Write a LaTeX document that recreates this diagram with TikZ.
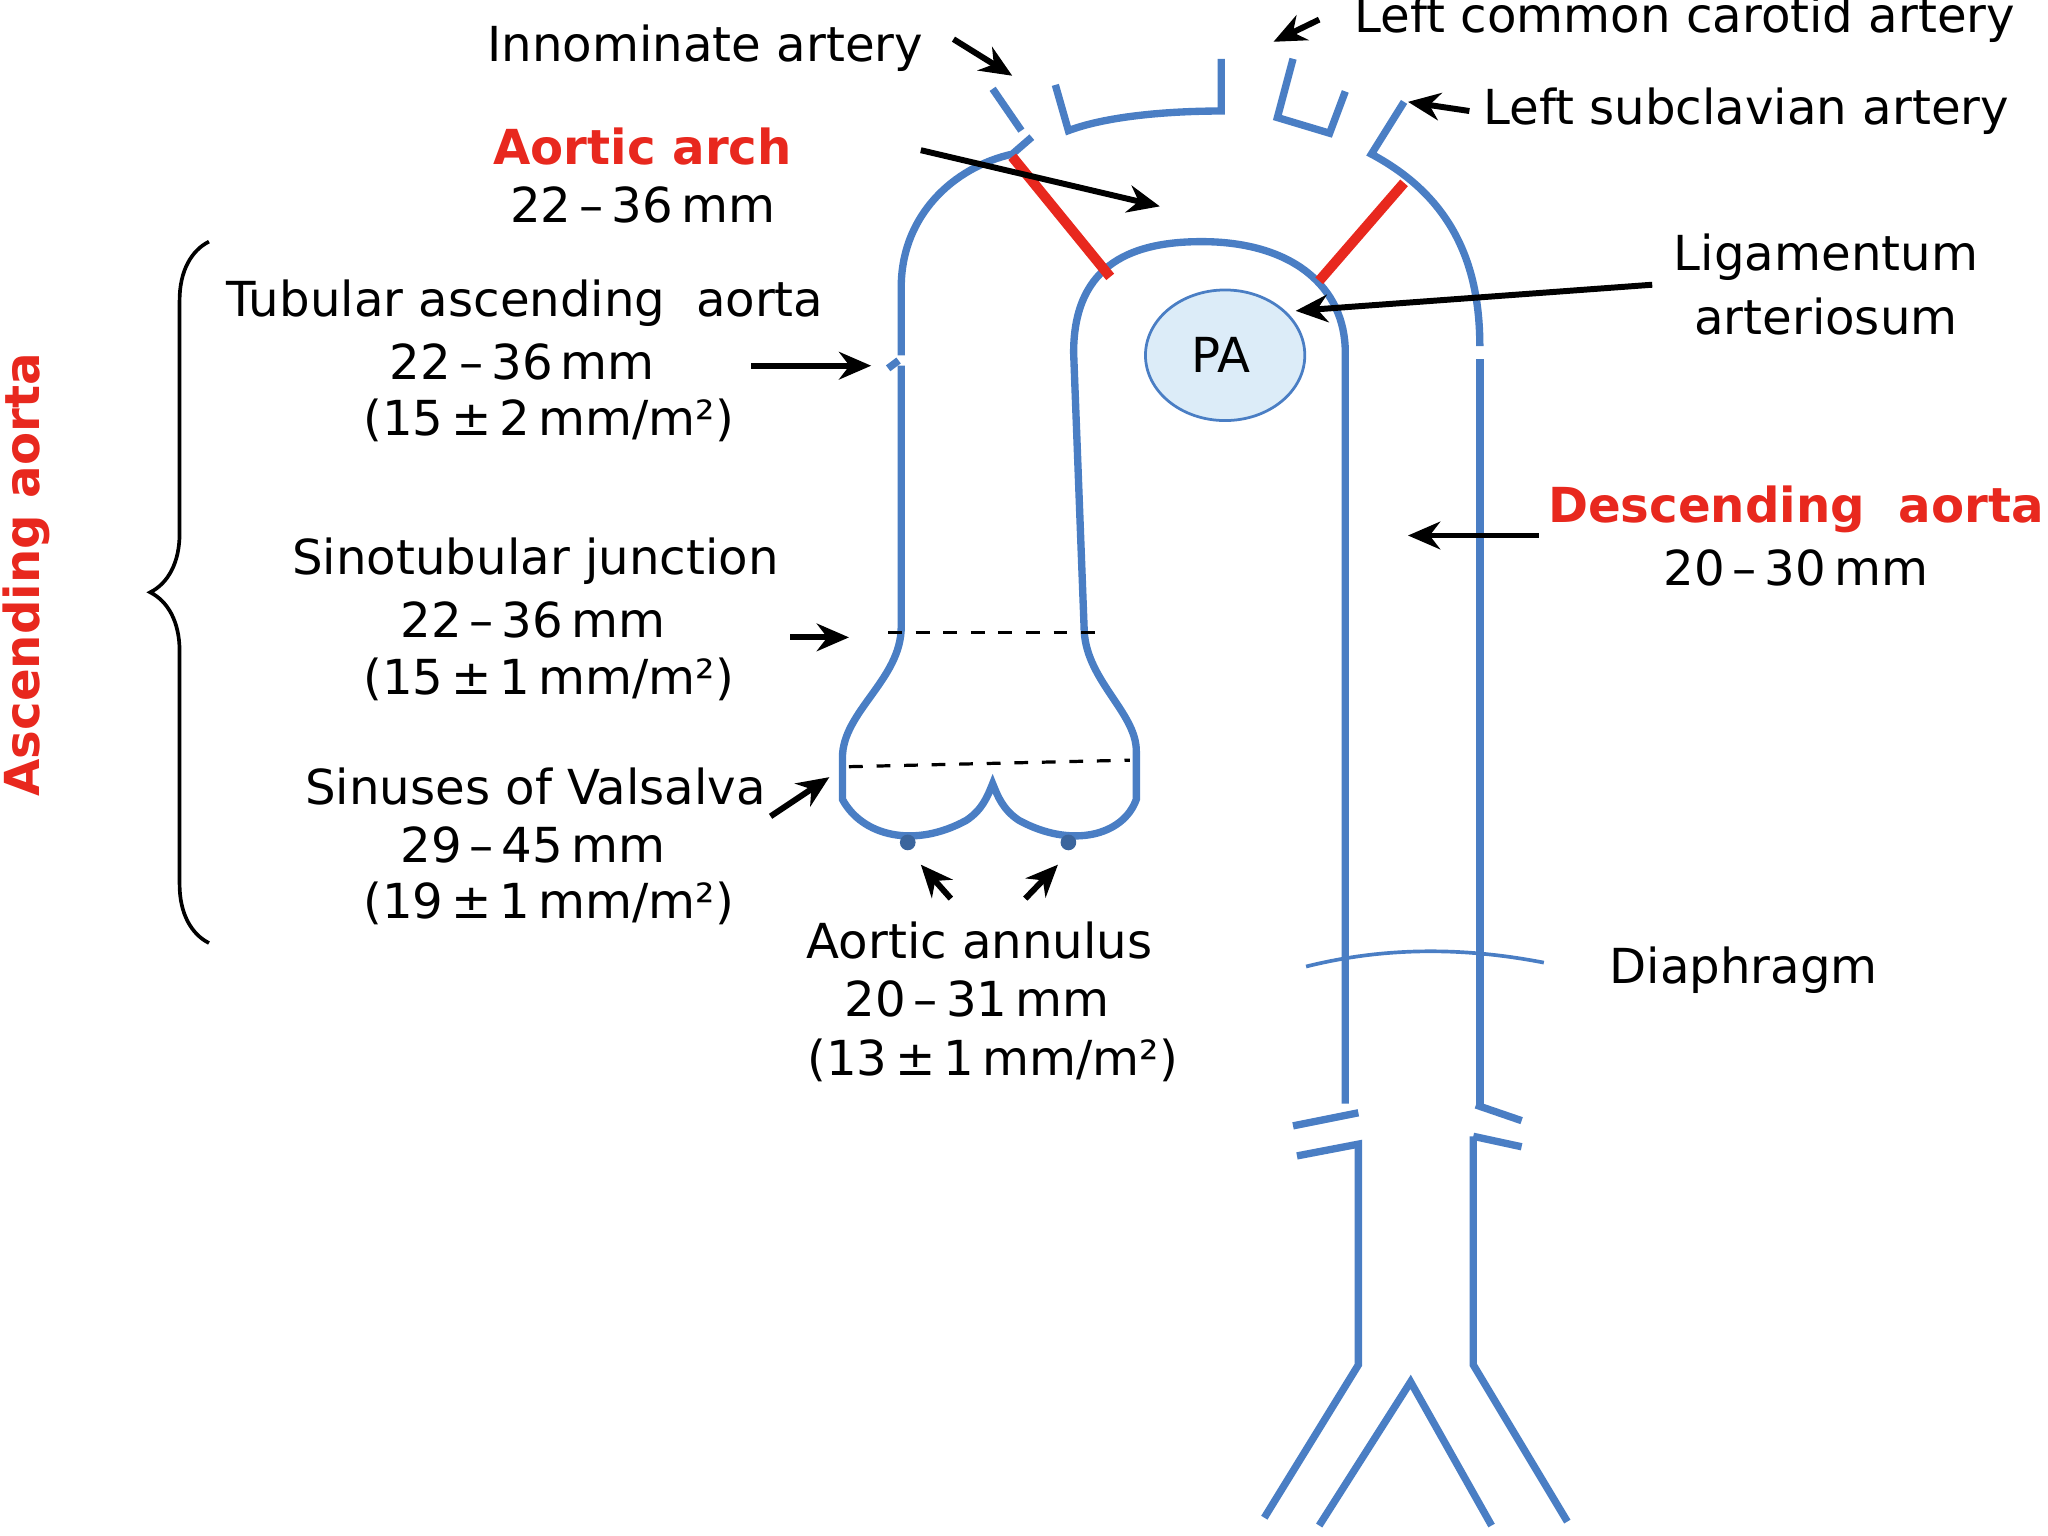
\documentclass[tikz,border=0pt]{standalone}
\usepackage{fontspec}
\setmainfont{DejaVu Sans}
\usetikzlibrary{decorations.pathreplacing,arrows.meta}
\definecolor{ao}{RGB}{74,126,196}
\definecolor{rd}{RGB}{232,40,30}
\definecolor{pa}{RGB}{220,236,248}
\begin{document}
\begin{tikzpicture}[x=0.01cm,y=-0.01cm,
  wall/.style={ao,line width=1.6pt},
  lab/.style={font=\fontsize{10.5}{12.8}\selectfont,inner sep=0pt},
  tit/.style={lab,rd,font=\fontsize{10.5}{12.8}\selectfont\bfseries},
  arr/.style={-{Stealth[length=7pt,width=6pt]},line width=1.3pt}]
\useasboundingbox (0,0) rectangle (1568,1176);
% ascending aorta outer + arch
\draw[wall] (690,280) -- (690,480) .. controls (690,520) and (645,545) .. (645,580) -- (645,612)
  .. controls (660,640) and (700,650) .. (740,628) .. controls (752,620) and (756,610) .. (760,600)
  .. controls (764,610) and (768,620) .. (780,628) .. controls (820,650) and (860,640) .. (870,612)
  -- (870,575) .. controls (870,545) and (830,520) .. (830,480) -- (822,270)
  .. controls (822,200) and (870,185) .. (920,185) .. controls (990,185) and (1030,220) .. (1030,270) -- (1030,845);
\draw[wall] (690,272) -- (690,220) .. controls (690,165) and (730,128) .. (775,118) -- (790,105);
\draw[wall] (760,68) -- (782,100);
\draw[wall] (808,65) -- (818,100) .. controls (850,88) and (900,85) .. (935,85) -- (935,45);
\draw[wall] (990,45) -- (978,90) -- (1018,102) -- (1030,70);
\draw[wall] (1075,78) -- (1050,118) .. controls (1110,150) and (1133,200) .. (1133,265);
\draw[wall] (1133,275) -- (1133,845);
\draw[wall] (680,282) -- (688,276);
% lower descending
\draw[wall] (990,862) -- (1040,852);
\draw[wall] (993,885) -- (1040,876) -- (1040,1045) -- (968,1162);
\draw[wall] (1130,846) -- (1165,858);
\draw[wall] (1128,870) -- (1165,878);
\draw[wall] (1128,870) -- (1128,1045) -- (1200,1165);
\draw[wall] (1010,1168) -- (1080,1058) -- (1142,1168);
% red lines
\draw[rd,line width=2.2pt] (775,120) -- (850,212);
\draw[rd,line width=2.2pt] (1010,215) -- (1075,140);
% PA
\draw[ao,fill=pa,line width=0.6pt] (938,272) ellipse (61 and 50);
\node[lab] (pat) at (935,272) {PA};
% dashed, dots, diaphragm
\draw[dashed,line width=0.7pt] (680,484) -- (838,484);
\draw[dashed,line width=0.7pt] (650,587) -- (865,582);
\fill[ao!80!black] (695,645) circle (6) (818,645) circle (6);
\draw[ao,line width=0.8pt] (1000,740) .. controls (1060,725) and (1120,725) .. (1182,737);
% brace
\draw[line width=0.8pt,decorate,decoration={brace,amplitude=45pt*0.2845}] (160,722) -- (160,185);
\node[tit,rotate=90] (asc) at (20,440) {Ascending aorta};
% labels
\node[lab] (inn) at (540,37) {Innominate artery};
\node[lab] (lcc) at (1290,15) {Left common carotid artery};
\node[lab] (lsa) at (1337,85) {Left subclavian artery};
\node[tit] (aa) at (492,112) {Aortic arch};
\node[lab] at (492,157) {22\,–\,36\,mm};
\node[lab] (tub) at (402,232) {Tubular ascending\ \ aorta};
\node[lab] at (400,277) {22\,–\,36\,mm};
\node[lab] at (420,322) {(15\,±\,2\,mm/m²)};
\node[lab] (sin) at (410,430) {Sinotubular junction};
\node[lab] at (408,475) {22\,–\,36\,mm};
\node[lab] at (420,520) {(15\,±\,1\,mm/m²)};
\node[lab] (val) at (410,602) {Sinuses of Valsalva};
\node[lab] at (408,647) {29\,–\,45\,mm};
\node[lab] at (420,692) {(19\,±\,1\,mm/m²)};
\node[lab] (ann) at (750,720) {Aortic annulus};
\node[lab] at (748,765) {20\,–\,31\,mm};
\node[lab] at (760,812) {(13\,±\,1\,mm/m²)};
\node[lab] (lig) at (1398,197) {Ligamentum};
\node[lab] at (1398,242) {arteriosum};
\node[tit] (des) at (1375,390) {Descending\ \ aorta};
\node[lab] at (1375,435) {20\,–\,30\,mm};
\node[lab] (dia) at (1335,743) {Diaphragm};
% arrows
\draw[arr] (730,30) -- (775,58);
\draw[arr] (1010,15) -- (975,32);
\draw[arr] (1125,85) -- (1078,78);
\draw[arr] (705,115) -- (888,158);
\draw[arr] (1265,218) -- (992,238);
\draw[arr] (575,280) -- (667,280);
\draw[arr] (1178,410) -- (1078,410);
\draw[arr] (605,488) -- (650,488);
\draw[arr] (590,625) -- (635,595);
\draw[arr] (728,688) -- (705,662);
\draw[arr] (785,688) -- (810,662);
\end{tikzpicture}
\end{document}
